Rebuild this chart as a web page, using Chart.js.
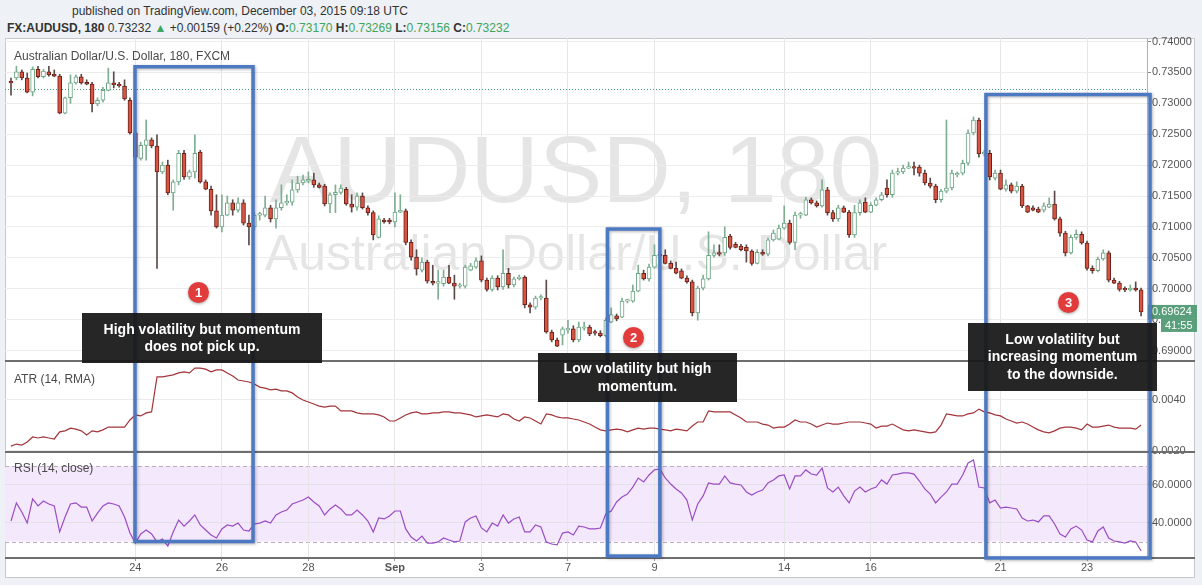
<!DOCTYPE html>
<html>
<head>
<meta charset="utf-8">
<title>AUDUSD 180</title>
<script src="https://cdn.jsdelivr.net/npm/chart.js@4.4.1/dist/chart.umd.min.js"></script>
<style>
  html, body { margin: 0; padding: 0; }
  body { width: 1202px; height: 585px; background: #eef1f5; position: relative; overflow: hidden;
         font-family: "Liberation Sans", Arial, sans-serif; color: #333; }
  .abs { position: absolute; white-space: nowrap; }
  #frame { left: 5px; top: 38px; width: 1188px; height: 538px; background: #fff; border: 1px solid #c4c7cc; }
  .wm { left: 5px; width: 1142px; text-align: center; color: rgba(0,0,0,0.1); }
  .legend { left: 14px; font-size: 12px; line-height: 14px; color: #4a4a4a; z-index: 3; }
  .g { color: #3fa55b; }
  #chart { position: absolute; left: 0; top: 0; z-index: 2; }
  .note { position: absolute; z-index: 4; background: rgba(24,24,24,0.94); color: #fff; font-weight: bold;
          font-size: 14px; line-height: 17.5px; text-align: center; display: flex; align-items: center; justify-content: center; }
  .num { position: absolute; z-index: 4; width: 21px; height: 21px; border-radius: 50%; background: #e23b3b;
         color: #fff; font-size: 13px; font-weight: bold; line-height: 21px; text-align: center;
         box-shadow: 0 1px 3px rgba(0,0,0,0.35); }
</style>
</head>
<body>
<div class="abs" style="left:72px;top:4px;font-size:12px;line-height:15px;">published on TradingView.com, December 03, 2015 09:18 UTC</div>
<div class="abs" style="left:7px;top:21px;font-size:12px;line-height:15px;"><b>FX:AUDUSD, 180</b> 0.73232 <span class="g">&#9650;</span> +0.00159 (+0.22%) <b>O:</b><span class="g">0.73170</span> <b>H:</b><span class="g">0.73269</span> <b>L:</b><span class="g">0.73156</span> <b>C:</b><span class="g">0.73232</span></div>

<div id="frame" class="abs"></div>
<div class="abs wm" style="top:122px;font-size:95px;line-height:95px;">AUDUSD, 180</div>
<div class="abs wm" style="top:228px;font-size:50px;line-height:50px;">Australian Dollar/U.S. Dollar</div>

<div class="abs legend" style="top:49px;">Australian Dollar/U.S. Dollar, 180, FXCM</div>
<div class="abs legend" style="top:372px;">ATR (14, RMA)</div>
<div class="abs legend" style="top:461px;">RSI (14, close)</div>

<canvas id="chart" width="1202" height="585"></canvas>

<div class="num" style="left:188px;top:282px;">1</div>
<div class="num" style="left:623px;top:327px;">2</div>
<div class="num" style="left:1058px;top:292px;">3</div>
<div class="note" style="left:82px;top:313px;width:240px;height:50px;">High volatility but momentum<br>does not pick up.</div>
<div class="note" style="left:538px;top:353px;width:199px;height:49px;">Low volatility but high<br>momentum.</div>
<div class="note" style="left:968px;top:323px;width:189px;height:68px;">Low volatility but<br>increasing momentum<br>to the downside.</div>

<script>
// time axis: bar index of each day label
const xTickIndex = [23, 39, 55, 71, 87, 103, 119, 143, 159, 183, 199];
const xTickLabels = ['24', '26', '28', 'Sep', '3', '7', '9', '14', '16', '21', '23'];

// 180 minute candles
const opens = [
  0.7334, 0.7341, 0.7351, 0.7341, 0.7318, 0.7355, 0.7343, 0.7351, 0.7347, 0.7344,
  0.7284, 0.7309, 0.7333, 0.7343, 0.7334, 0.7331, 0.7299, 0.7305, 0.7321, 0.7333,
  0.7331, 0.7328, 0.7305, 0.7252, 0.7211, 0.7232, 0.7241, 0.7231, 0.7189, 0.7200,
  0.7155, 0.7173, 0.7219, 0.7181, 0.7189, 0.7221, 0.7173, 0.7161, 0.7126, 0.7100,
  0.7119, 0.7139, 0.7127, 0.7139, 0.7106, 0.7100, 0.7119, 0.7119, 0.7131, 0.7113,
  0.7131, 0.7139, 0.7140, 0.7160, 0.7171, 0.7174, 0.7176, 0.7168, 0.7166, 0.7137,
  0.7152, 0.7156, 0.7161, 0.7137, 0.7132, 0.7150, 0.7131, 0.7123, 0.7083, 0.7111,
  0.7111, 0.7108, 0.7124, 0.7126, 0.7075, 0.7051, 0.7030, 0.7043, 0.7012, 0.7009,
  0.7008, 0.7019, 0.7009, 0.7004, 0.7004, 0.7030, 0.7035, 0.7045, 0.7014, 0.6999,
  0.7017, 0.7003, 0.7025, 0.7006, 0.7016, 0.7019, 0.6974, 0.6970, 0.6985, 0.6985,
  0.6930, 0.6917, 0.6925, 0.6933, 0.6935, 0.6917, 0.6936, 0.6938, 0.6930, 0.6928,
  0.6924, 0.6946, 0.6956, 0.6954, 0.6980, 0.6980, 0.6996, 0.7025, 0.7016, 0.7035,
  0.7054, 0.7054, 0.7041, 0.7033, 0.7029, 0.7017, 0.7011, 0.6961, 0.7001, 0.7016,
  0.7054, 0.7058, 0.7058, 0.7085, 0.7072, 0.7069, 0.7067, 0.7061, 0.7041, 0.7059,
  0.7056, 0.7079, 0.7080, 0.7098, 0.7106, 0.7075, 0.7119, 0.7119, 0.7144, 0.7139,
  0.7134, 0.7160, 0.7123, 0.7113, 0.7131, 0.7124, 0.7087, 0.7123, 0.7140, 0.7124,
  0.7135, 0.7144, 0.7163, 0.7152, 0.7187, 0.7189, 0.7195, 0.7197, 0.7197, 0.7187,
  0.7171, 0.7166, 0.7144, 0.7158, 0.7163, 0.7184, 0.7187, 0.7203, 0.7252, 0.7273,
  0.7218, 0.7219, 0.7179, 0.7187, 0.7161, 0.7168, 0.7158, 0.7166, 0.7134, 0.7131,
  0.7129, 0.7127, 0.7132, 0.7137, 0.7113, 0.7090, 0.7058, 0.7083, 0.7088, 0.7074,
  0.7033, 0.7029, 0.7048, 0.7058, 0.7014, 0.7009, 0.6999, 0.6998, 0.7001, 0.6998
];
const highs = [
  0.7341, 0.7360, 0.7354, 0.7349, 0.7359, 0.7360, 0.7355, 0.7360, 0.7354, 0.7347,
  0.7310, 0.7346, 0.7346, 0.7347, 0.7338, 0.7334, 0.7309, 0.7326, 0.7357, 0.7351,
  0.7334, 0.7338, 0.7309, 0.7255, 0.7237, 0.7273, 0.7244, 0.7249, 0.7205, 0.7208,
  0.7176, 0.7224, 0.7224, 0.7192, 0.7249, 0.7224, 0.7176, 0.7166, 0.7152, 0.7152,
  0.7150, 0.7144, 0.7147, 0.7144, 0.7119, 0.7123, 0.7124, 0.7150, 0.7135, 0.7144,
  0.7168, 0.7152, 0.7176, 0.7182, 0.7184, 0.7189, 0.7187, 0.7171, 0.7169, 0.7155,
  0.7168, 0.7168, 0.7164, 0.7152, 0.7155, 0.7155, 0.7134, 0.7126, 0.7118, 0.7114,
  0.7114, 0.7155, 0.7152, 0.7129, 0.7079, 0.7063, 0.7050, 0.7046, 0.7038, 0.7030,
  0.7030, 0.7038, 0.7022, 0.7009, 0.7038, 0.7041, 0.7050, 0.7053, 0.7017, 0.7021,
  0.7021, 0.7063, 0.7033, 0.7019, 0.7022, 0.7021, 0.6977, 0.6988, 0.6990, 0.7014,
  0.6933, 0.6920, 0.6938, 0.6949, 0.6940, 0.6946, 0.6946, 0.6941, 0.6933, 0.6932,
  0.6953, 0.6969, 0.6959, 0.6985, 0.6983, 0.7006, 0.7038, 0.7030, 0.7040, 0.7071,
  0.7066, 0.7063, 0.7045, 0.7043, 0.7032, 0.7021, 0.7014, 0.7004, 0.7022, 0.7092,
  0.7071, 0.7071, 0.7100, 0.7088, 0.7075, 0.7072, 0.7071, 0.7063, 0.7063, 0.7063,
  0.7082, 0.7095, 0.7103, 0.7134, 0.7111, 0.7124, 0.7124, 0.7148, 0.7147, 0.7142,
  0.7176, 0.7164, 0.7127, 0.7135, 0.7134, 0.7127, 0.7135, 0.7144, 0.7147, 0.7139,
  0.7147, 0.7156, 0.7176, 0.7192, 0.7195, 0.7200, 0.7205, 0.7205, 0.7200, 0.7192,
  0.7179, 0.7169, 0.7161, 0.7273, 0.7192, 0.7189, 0.7208, 0.7257, 0.7278, 0.7276,
  0.7224, 0.7224, 0.7192, 0.7192, 0.7176, 0.7171, 0.7173, 0.7169, 0.7135, 0.7134,
  0.7132, 0.7139, 0.7147, 0.7158, 0.7116, 0.7093, 0.7087, 0.7095, 0.7092, 0.7077,
  0.7037, 0.7051, 0.7063, 0.7061, 0.7017, 0.7012, 0.7003, 0.7006, 0.7011, 0.7001
];
const lows = [
  0.7313, 0.7338, 0.7338, 0.7317, 0.7312, 0.7341, 0.7341, 0.7344, 0.7343, 0.7283,
  0.7283, 0.7300, 0.7331, 0.7331, 0.7330, 0.7286, 0.7296, 0.7302, 0.7320, 0.7325,
  0.7326, 0.7305, 0.7250, 0.7211, 0.7208, 0.7208, 0.7228, 0.7033, 0.7186, 0.7152,
  0.7127, 0.7168, 0.7177, 0.7177, 0.7179, 0.7171, 0.7160, 0.7119, 0.7098, 0.7092,
  0.7118, 0.7119, 0.7124, 0.7103, 0.7071, 0.7095, 0.7111, 0.7116, 0.7108, 0.7098,
  0.7127, 0.7135, 0.7135, 0.7156, 0.7168, 0.7171, 0.7164, 0.7163, 0.7134, 0.7123,
  0.7123, 0.7153, 0.7135, 0.7124, 0.7127, 0.7129, 0.7119, 0.7079, 0.7082, 0.7106,
  0.7105, 0.7100, 0.7123, 0.7071, 0.7046, 0.7022, 0.7027, 0.7009, 0.7006, 0.6983,
  0.7004, 0.7008, 0.6983, 0.7001, 0.7001, 0.7029, 0.7033, 0.7011, 0.6996, 0.6996,
  0.6998, 0.6999, 0.7001, 0.7003, 0.7014, 0.6969, 0.6961, 0.6967, 0.6982, 0.6928,
  0.6914, 0.6906, 0.6909, 0.6928, 0.6914, 0.6914, 0.6933, 0.6924, 0.6925, 0.6922,
  0.6922, 0.6945, 0.6948, 0.6953, 0.6977, 0.6978, 0.6995, 0.7014, 0.7012, 0.7033,
  0.7050, 0.7040, 0.7032, 0.7024, 0.7016, 0.7009, 0.6956, 0.6949, 0.6998, 0.7014,
  0.7051, 0.7053, 0.7054, 0.7064, 0.7066, 0.7061, 0.7043, 0.7038, 0.7040, 0.7054,
  0.7053, 0.7077, 0.7079, 0.7096, 0.7072, 0.7063, 0.7114, 0.7118, 0.7137, 0.7132,
  0.7132, 0.7119, 0.7109, 0.7109, 0.7123, 0.7083, 0.7083, 0.7119, 0.7123, 0.7123,
  0.7134, 0.7142, 0.7148, 0.7148, 0.7184, 0.7186, 0.7194, 0.7184, 0.7182, 0.7168,
  0.7163, 0.7139, 0.7140, 0.7155, 0.7160, 0.7181, 0.7184, 0.7200, 0.7249, 0.7213,
  0.7215, 0.7176, 0.7176, 0.7160, 0.7158, 0.7155, 0.7155, 0.7131, 0.7123, 0.7126,
  0.7123, 0.7124, 0.7131, 0.7111, 0.7085, 0.7053, 0.7056, 0.7080, 0.7072, 0.7030,
  0.7025, 0.7027, 0.7046, 0.7011, 0.7008, 0.6996, 0.6995, 0.6996, 0.6996, 0.6956
];
const closes = [
  0.7333, 0.7351, 0.7341, 0.7318, 0.7355, 0.7343, 0.7352, 0.7346, 0.7344, 0.7284,
  0.7309, 0.7333, 0.7343, 0.7333, 0.7331, 0.7299, 0.7305, 0.7321, 0.7333, 0.7330,
  0.7328, 0.7307, 0.7252, 0.7213, 0.7232, 0.7241, 0.7231, 0.7189, 0.7200, 0.7155,
  0.7173, 0.7219, 0.7181, 0.7189, 0.7219, 0.7173, 0.7161, 0.7126, 0.7100, 0.7119,
  0.7139, 0.7127, 0.7139, 0.7106, 0.7100, 0.7119, 0.7119, 0.7131, 0.7113, 0.7131,
  0.7139, 0.7140, 0.7160, 0.7171, 0.7176, 0.7177, 0.7168, 0.7164, 0.7137, 0.7152,
  0.7156, 0.7163, 0.7137, 0.7132, 0.7150, 0.7131, 0.7123, 0.7087, 0.7113, 0.7108,
  0.7108, 0.7124, 0.7127, 0.7075, 0.7051, 0.7032, 0.7043, 0.7012, 0.7009, 0.7009,
  0.7019, 0.7009, 0.7004, 0.7004, 0.7035, 0.7037, 0.7045, 0.7014, 0.6999, 0.7017,
  0.7003, 0.7025, 0.7006, 0.7016, 0.7019, 0.6974, 0.6970, 0.6985, 0.6986, 0.6930,
  0.6917, 0.6907, 0.6935, 0.6936, 0.6917, 0.6938, 0.6938, 0.6927, 0.6928, 0.6924,
  0.6949, 0.6958, 0.6951, 0.6980, 0.6981, 0.6996, 0.7025, 0.7016, 0.7035, 0.7054,
  0.7053, 0.7041, 0.7033, 0.7025, 0.7017, 0.7011, 0.6961, 0.7001, 0.7016, 0.7054,
  0.7058, 0.7056, 0.7083, 0.7067, 0.7067, 0.7063, 0.7061, 0.7041, 0.7059, 0.7056,
  0.7079, 0.7090, 0.7098, 0.7106, 0.7075, 0.7119, 0.7119, 0.7144, 0.7139, 0.7134,
  0.7160, 0.7123, 0.7113, 0.7131, 0.7124, 0.7087, 0.7123, 0.7139, 0.7124, 0.7135,
  0.7144, 0.7152, 0.7152, 0.7187, 0.7189, 0.7195, 0.7197, 0.7195, 0.7187, 0.7171,
  0.7166, 0.7144, 0.7158, 0.7163, 0.7187, 0.7187, 0.7203, 0.7252, 0.7273, 0.7218,
  0.7221, 0.7181, 0.7187, 0.7161, 0.7168, 0.7158, 0.7166, 0.7134, 0.7124, 0.7127,
  0.7124, 0.7134, 0.7137, 0.7113, 0.7090, 0.7058, 0.7083, 0.7088, 0.7074, 0.7033,
  0.7029, 0.7048, 0.7058, 0.7014, 0.7009, 0.6999, 0.6998, 0.7001, 0.6998, 0.69624
];

// ATR (14, RMA)
const atr = [
  0.00218, 0.00226, 0.00222, 0.00234, 0.00254, 0.00250, 0.00254, 0.00250, 0.00246, 0.00274,
  0.00278, 0.00289, 0.00285, 0.00278, 0.00262, 0.00278, 0.00274, 0.00282, 0.00293, 0.00293,
  0.00293, 0.00293, 0.00321, 0.00341, 0.00337, 0.00349, 0.00353, 0.00491, 0.00491, 0.00495,
  0.00499, 0.00507, 0.00511, 0.00507, 0.00526, 0.00526, 0.00522, 0.00511, 0.00519, 0.00519,
  0.00507, 0.00495, 0.00479, 0.00475, 0.00471, 0.00463, 0.00451, 0.00447, 0.00440, 0.00443,
  0.00436, 0.00436, 0.00428, 0.00412, 0.00400, 0.00392, 0.00384, 0.00376, 0.00372, 0.00376,
  0.00376, 0.00357, 0.00357, 0.00357, 0.00349, 0.00345, 0.00345, 0.00345, 0.00341, 0.00333,
  0.00317, 0.00317, 0.00329, 0.00341, 0.00349, 0.00353, 0.00345, 0.00345, 0.00349, 0.00349,
  0.00353, 0.00353, 0.00349, 0.00349, 0.00345, 0.00341, 0.00333, 0.00337, 0.00341, 0.00337,
  0.00333, 0.00345, 0.00341, 0.00325, 0.00317, 0.00333, 0.00329, 0.00317, 0.00305, 0.00345,
  0.00341, 0.00333, 0.00329, 0.00329, 0.00325, 0.00321, 0.00313, 0.00305, 0.00293, 0.00282,
  0.00278, 0.00282, 0.00285, 0.00282, 0.00274, 0.00282, 0.00289, 0.00285, 0.00289, 0.00289,
  0.00285, 0.00282, 0.00278, 0.00285, 0.00282, 0.00278, 0.00297, 0.00313, 0.00313, 0.00357,
  0.00353, 0.00353, 0.00353, 0.00353, 0.00341, 0.00329, 0.00313, 0.00313, 0.00313, 0.00305,
  0.00301, 0.00289, 0.00293, 0.00293, 0.00305, 0.00321, 0.00313, 0.00313, 0.00305, 0.00293,
  0.00301, 0.00309, 0.00305, 0.00305, 0.00309, 0.00313, 0.00313, 0.00313, 0.00309, 0.00305,
  0.00289, 0.00297, 0.00297, 0.00305, 0.00293, 0.00282, 0.00278, 0.00282, 0.00278, 0.00274,
  0.00270, 0.00274, 0.00301, 0.00345, 0.00341, 0.00337, 0.00337, 0.00345, 0.00349, 0.00364,
  0.00353, 0.00349, 0.00341, 0.00337, 0.00325, 0.00317, 0.00309, 0.00313, 0.00305, 0.00293,
  0.00282, 0.00274, 0.00270, 0.00278, 0.00289, 0.00293, 0.00293, 0.00289, 0.00282, 0.00305,
  0.00293, 0.00293, 0.00297, 0.00301, 0.00293, 0.00289, 0.00289, 0.00289, 0.00285, 0.00301
];

// RSI (14, close)
const rsi = [
  40.9, 50.5, 45.7, 39.8, 52.6, 48.9, 51.5, 49.9, 48.9, 35.1,
  43.0, 49.9, 50.5, 48.3, 48.3, 40.9, 45.1, 48.9, 50.5, 49.9,
  48.9, 43.0, 34.5, 29.2, 34.0, 36.1, 34.0, 29.8, 31.4, 27.6,
  35.1, 41.4, 38.2, 40.9, 44.1, 38.8, 36.1, 33.5, 31.9, 36.7,
  38.8, 38.2, 39.8, 36.1, 35.6, 39.3, 39.8, 40.9, 39.8, 44.1,
  45.7, 46.7, 49.9, 51.0, 52.0, 53.6, 51.0, 48.9, 44.1, 47.3,
  49.4, 47.3, 44.1, 44.1, 46.7, 44.1, 40.9, 35.1, 42.5, 42.0,
  43.6, 46.2, 46.2, 36.7, 32.4, 30.3, 32.9, 29.2, 29.2, 29.8,
  31.9, 30.8, 29.8, 30.3, 40.4, 42.5, 43.6, 37.2, 35.1, 39.8,
  38.2, 44.1, 39.8, 42.0, 43.0, 35.1, 35.1, 38.8, 37.7, 29.8,
  28.7, 28.2, 34.5, 35.1, 33.5, 38.2, 37.7, 36.7, 36.7, 37.2,
  44.6, 46.2, 51.0, 53.6, 55.2, 58.9, 63.7, 61.6, 65.3, 68.0,
  68.5, 63.7, 60.5, 57.9, 55.8, 52.0, 41.4, 49.9, 54.2, 61.1,
  60.5, 60.5, 64.8, 61.1, 60.5, 60.0, 56.3, 54.7, 56.3, 57.3,
  61.1, 62.7, 64.8, 65.3, 57.9, 64.8, 64.8, 68.0, 65.8, 65.3,
  69.0, 58.4, 56.3, 58.9, 54.2, 50.5, 56.8, 58.9, 56.3, 57.9,
  58.9, 62.7, 60.5, 65.3, 65.8, 66.4, 66.4, 65.8, 62.1, 57.9,
  55.2, 50.5, 53.6, 56.3, 60.5, 60.5, 65.3, 71.7, 73.3, 58.9,
  58.4, 50.5, 52.0, 47.8, 48.3, 47.8, 47.3, 42.5, 40.9, 41.4,
  40.4, 43.6, 43.6, 39.3, 34.0, 32.4, 36.7, 38.2, 36.1, 30.8,
  29.8, 35.6, 37.7, 31.9, 30.3, 29.8, 29.2, 30.3, 29.8, 25.0
];

const priceTicks = [0.690, 0.695, 0.700, 0.705, 0.710, 0.715, 0.720, 0.725, 0.730, 0.735, 0.740];
const atrTicks = [0.002, 0.004];
const rsiTicks = [40, 60];
const rsiBand = [30, 70];
const quoteLine = 0.73232;
const lastLabel = '0.69624';
const timerLabel = '41:55';

// highlighted zones: bar range, top price, bottom RSI
const zones = [
  { from: 22.93, to: 44.76, top: 0.73592, bottom: 30.0 },
  { from: 110.3, to: 120.0, top: 0.70966, bottom: 22.3 },
  { from: 180.3, to: 210.65, top: 0.73142, bottom: 21.3 }
];

document.addEventListener('DOMContentLoaded', function () {
  Chart.defaults.font.family = '"Liberation Sans", Arial, sans-serif';
  Chart.defaults.font.size = 11;
  Chart.defaults.color = '#555';

  const idx = closes.map((c, i) => i);
  const up = idx.map(i => closes[i] >= opens[i]);

  const panes = {
    id: 'panes',
    beforeDraw(chart) {
      const { ctx, chartArea: a, scales } = chart;
      const y1 = scales.yRsi.getPixelForValue(rsiBand[1]);
      const y0 = scales.yRsi.getPixelForValue(rsiBand[0]);
      ctx.save();
      ctx.fillStyle = '#f4e8fc';
      ctx.fillRect(a.left, y1, a.right - a.left, y0 - y1);
      ctx.strokeStyle = '#b9adc2';
      ctx.lineWidth = 1;
      ctx.setLineDash([4, 3]);
      [y1, y0].forEach(y => {
        ctx.beginPath();
        ctx.moveTo(a.left, Math.round(y) + 0.5);
        ctx.lineTo(a.right, Math.round(y) + 0.5);
        ctx.stroke();
      });
      ctx.restore();
    },
    beforeDatasetsDraw(chart) {
      const { ctx, chartArea: a, scales } = chart;
      const y = Math.round(scales.yMain.getPixelForValue(quoteLine)) + 0.5;
      ctx.save();
      ctx.strokeStyle = '#3d9b7c';
      ctx.lineWidth = 1;
      ctx.setLineDash([1, 2]);
      ctx.beginPath();
      ctx.moveTo(a.left, y);
      ctx.lineTo(a.right, y);
      ctx.stroke();
      ctx.restore();
    },
    afterDraw(chart) {
      const { ctx, scales } = chart;
      ctx.save();
      // pane separators
      ctx.strokeStyle = '#6e6e6e';
      ctx.lineWidth = 2;
      [scales.yAtr.top, scales.yRsi.top, scales.x.top].forEach(y => {
        ctx.beginPath();
        ctx.moveTo(5, y);
        ctx.lineTo(1195, y);
        ctx.stroke();
      });
      // last price label
      const py = scales.yMain.getPixelForValue(closes[closes.length - 1]);
      ctx.fillStyle = '#5a9f7b';
      ctx.fillRect(1148, py - 7, 49, 14);
      ctx.fillRect(1161, py + 7, 36, 13);
      ctx.fillStyle = '#fff';
      ctx.font = '11px "Liberation Sans", Arial, sans-serif';
      ctx.textBaseline = 'middle';
      ctx.textAlign = 'left';
      ctx.fillText(lastLabel, 1152, py);
      ctx.fillText(timerLabel, 1165, py + 14);
      // highlight boxes
      ctx.strokeStyle = '#4d79c3';
      ctx.lineWidth = 3.5;
      ctx.shadowColor = 'rgba(0,0,0,0.3)';
      ctx.shadowBlur = 3;
      ctx.shadowOffsetX = 1;
      ctx.shadowOffsetY = 1;
      zones.forEach(z => {
        const x0 = scales.x.getPixelForValue(z.from);
        const x1 = scales.x.getPixelForValue(z.to);
        const t = scales.yMain.getPixelForValue(z.top);
        const b = scales.yRsi.getPixelForValue(z.bottom);
        ctx.strokeRect(x0, t, x1 - x0, b - t);
      });
      ctx.restore();
    }
  };

  const ctx = document.getElementById('chart').getContext('2d');
  new Chart(ctx, {
    type: 'bar',
    data: {
      datasets: [
        {
          label: 'Body',
          data: idx.map(i => ({ x: i, y: [opens[i], closes[i]] })),
          yAxisID: 'yMain',
          backgroundColor: up.map(u => u ? '#ffffff' : '#d75442'),
          borderColor: up.map(u => u ? '#6ba583' : '#6b2018'),
          borderWidth: 1,
          borderSkipped: false,
          barThickness: 4,
          minBarLength: 1.5,
          grouped: false,
          order: 0
        },
        {
          label: 'Wick',
          data: idx.map(i => ({ x: i, y: [lows[i], highs[i]] })),
          yAxisID: 'yMain',
          backgroundColor: up.map(u => u ? '#7fae93' : '#5b4a48'),
          barThickness: 1,
          grouped: false,
          order: 1
        },
        {
          type: 'line',
          label: 'ATR (14, RMA)',
          data: idx.map(i => ({ x: i, y: atr[i] })),
          yAxisID: 'yAtr',
          borderColor: '#a3353a',
          borderWidth: 1.2,
          pointRadius: 0,
          order: 2
        },
        {
          type: 'line',
          label: 'RSI (14, close)',
          data: idx.map(i => ({ x: i, y: rsi[i] })),
          yAxisID: 'yRsi',
          borderColor: '#9a4cc4',
          borderWidth: 1.2,
          pointRadius: 0,
          order: 3
        }
      ]
    },
    options: {
      responsive: false,
      animation: false,
      events: [],
      layout: { padding: { top: 38, left: 5, right: 7, bottom: 7 } },
      plugins: { legend: { display: false }, tooltip: { enabled: false } },
      scales: {
        x: {
          type: 'linear',
          position: 'bottom',
          min: -1.11,
          max: 210.09,
          offset: false,
          afterBuildTicks: s => { s.ticks = xTickIndex.map(v => ({ value: v })); },
          afterFit: s => { s.height = 20; },
          ticks: {
            autoSkip: false,
            maxRotation: 0,
            padding: 0,
            color: '#555',
            font: c => ({
              family: '"Liberation Sans", Arial, sans-serif',
              size: 11,
              weight: c.tick && xTickLabels[xTickIndex.indexOf(c.tick.value)] === 'Sep' ? 'bold' : 'normal'
            }),
            callback: v => xTickLabels[xTickIndex.indexOf(v)]
          },
          grid: { color: '#e6e6e6', offset: false, tickLength: 3, tickColor: '#999' },
          border: { display: false }
        },
        yMain: {
          type: 'linear',
          position: 'right',
          stack: 'panes',
          stackWeight: 323,
          min: 0.6883,
          max: 0.74057,
          afterBuildTicks: s => { s.ticks = priceTicks.map(v => ({ value: v })); },
          afterFit: s => { s.width = 48; },
          ticks: { padding: 1, callback: v => v.toFixed(5) },
          grid: { color: '#ececec', tickLength: 4, tickColor: '#888' },
          border: { display: true, color: '#b3b3b3' }
        },
        yAtr: {
          type: 'linear',
          position: 'right',
          stack: 'panes',
          stackWeight: 91,
          min: 0.001946,
          max: 0.00554,
          afterBuildTicks: s => { s.ticks = atrTicks.map(v => ({ value: v })); },
          afterFit: s => { s.width = 48; },
          ticks: { padding: 1, callback: v => v.toFixed(4) },
          grid: { color: '#ececec', tickLength: 4, tickColor: '#888' },
          border: { display: true, color: '#b3b3b3' }
        },
        yRsi: {
          type: 'linear',
          position: 'right',
          stack: 'panes',
          stackWeight: 106,
          min: 21.27,
          max: 77.5,
          afterBuildTicks: s => { s.ticks = rsiTicks.map(v => ({ value: v })); },
          afterFit: s => { s.width = 48; },
          ticks: { padding: 1, callback: v => v.toFixed(4) },
          grid: { color: '#e4e0e8', tickLength: 4, tickColor: '#888' },
          border: { display: true, color: '#b3b3b3' }
        }
      }
    },
    plugins: [panes]
  });
});
</script>
</body>
</html>
